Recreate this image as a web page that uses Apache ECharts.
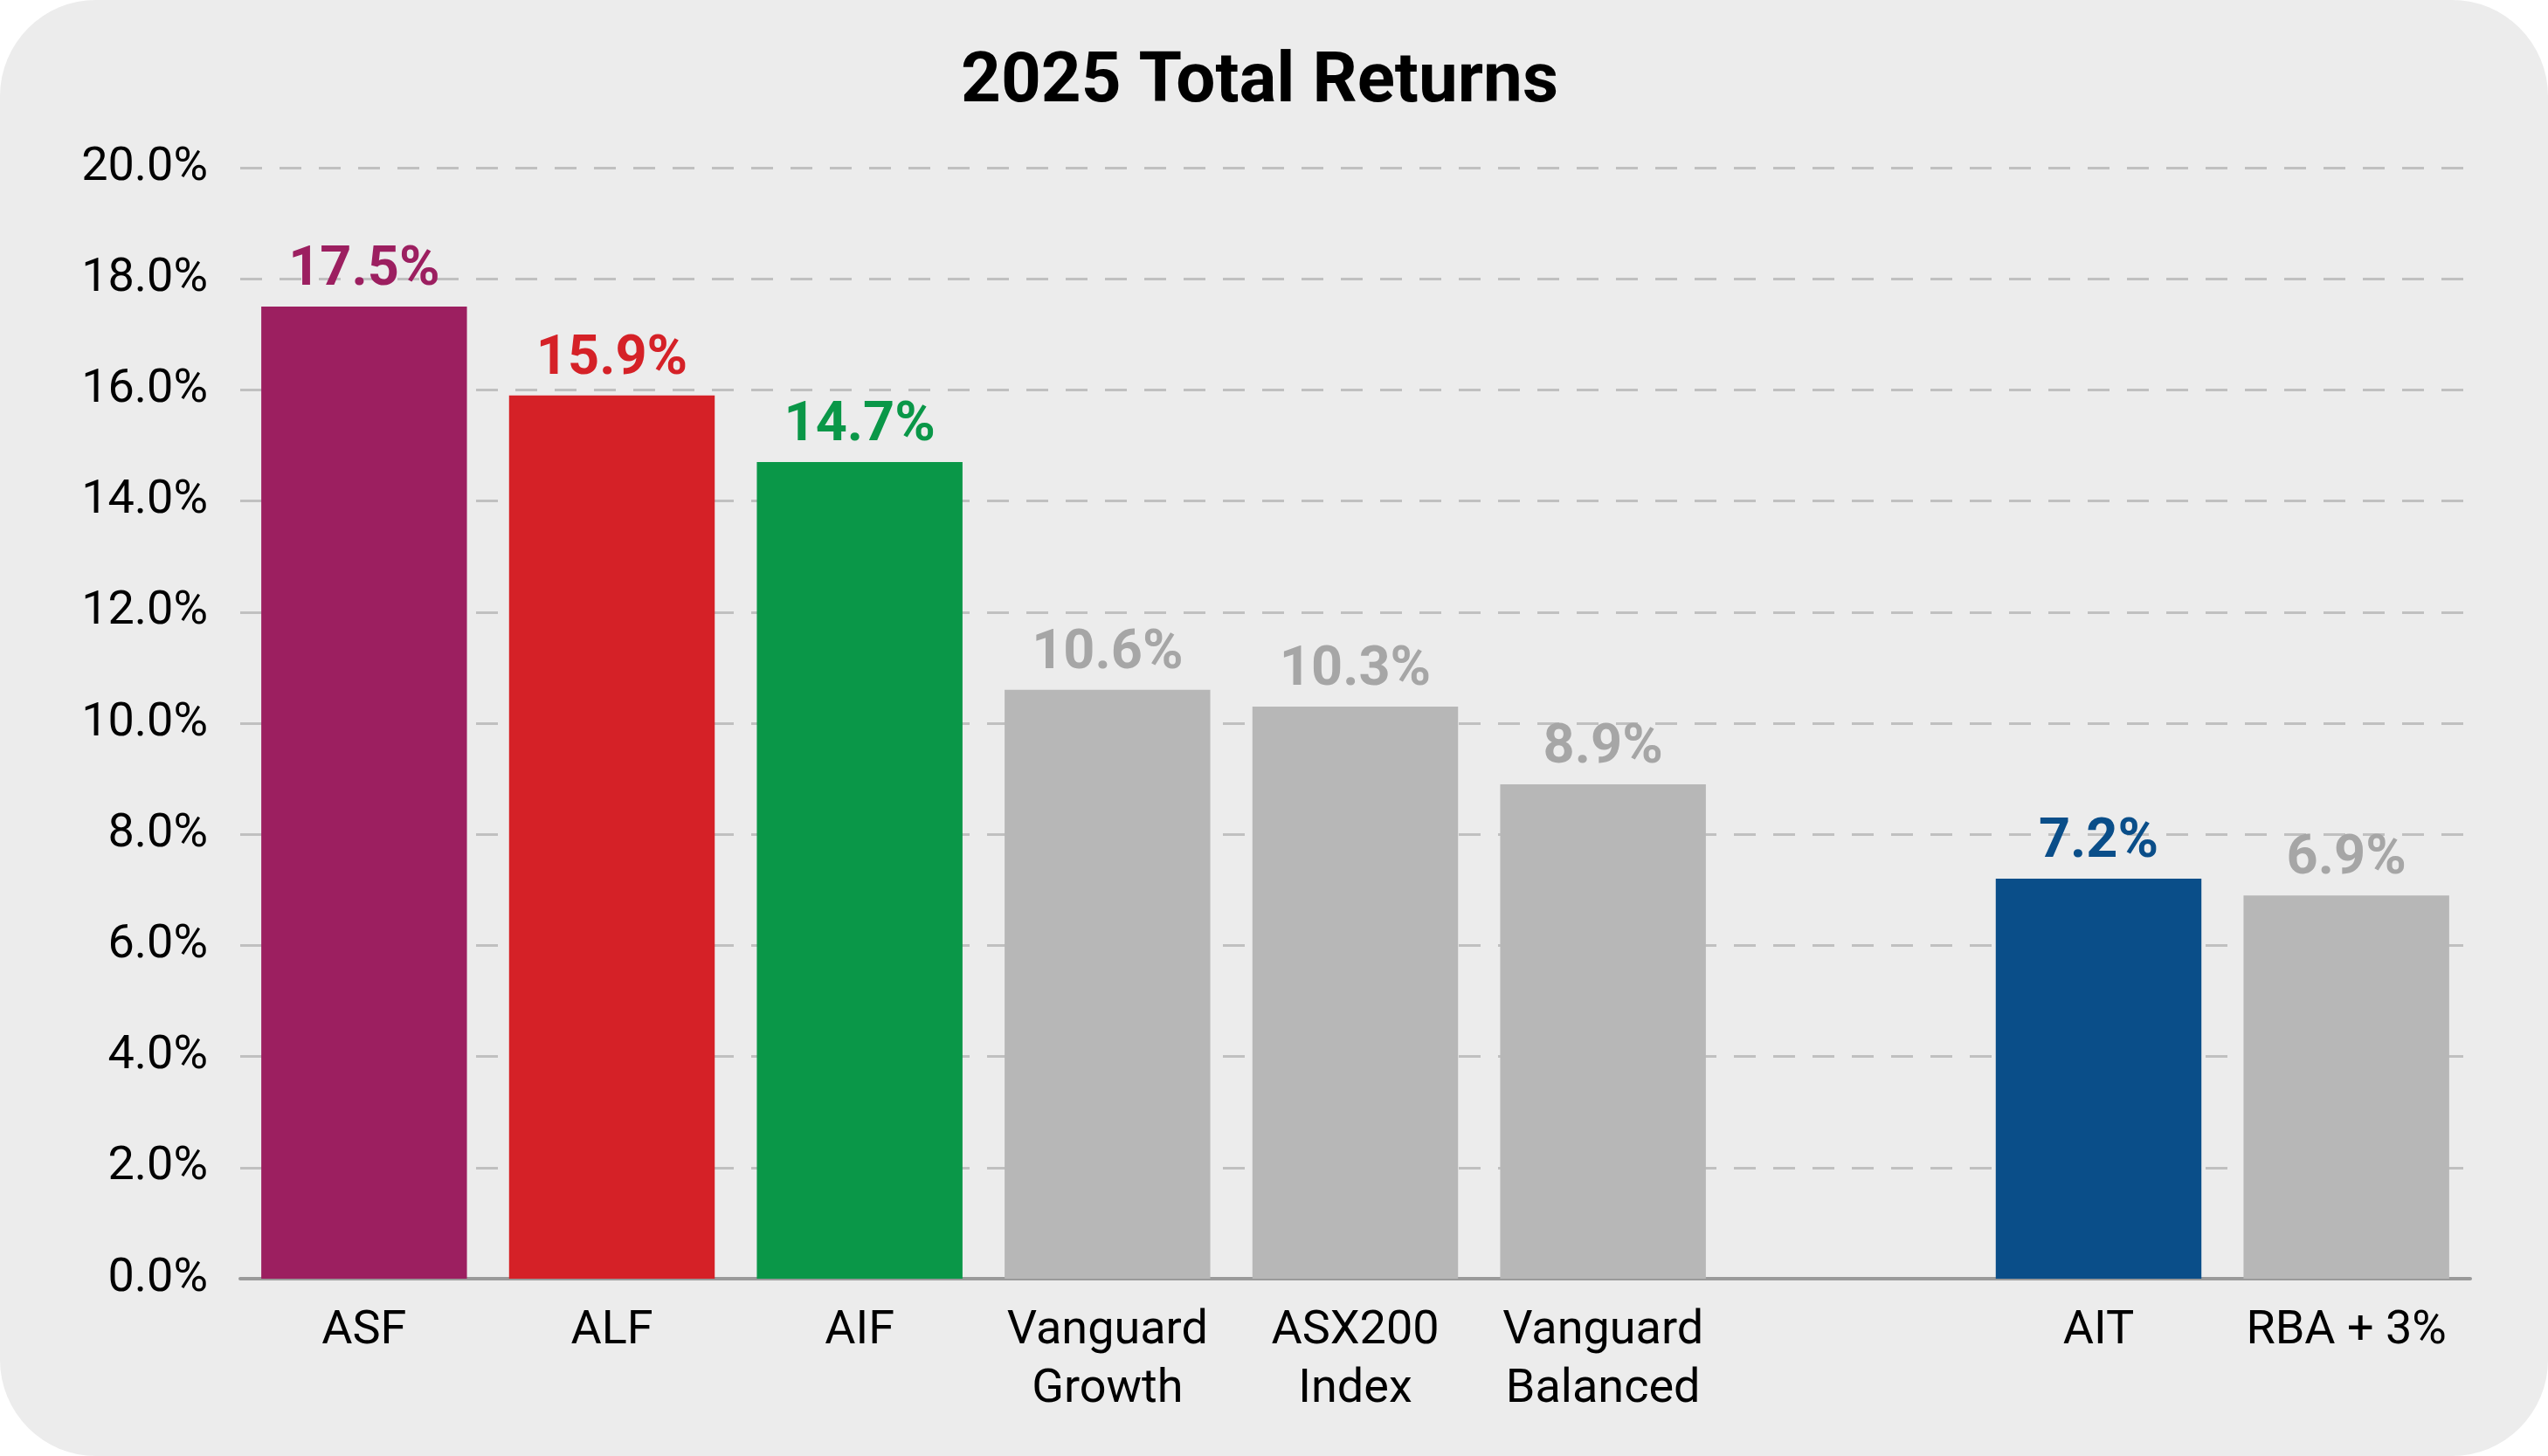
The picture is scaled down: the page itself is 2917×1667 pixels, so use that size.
<!DOCTYPE html>
<html>
<head>
<meta charset="utf-8">
<script src="https://cdn.jsdelivr.net/npm/echarts@6/dist/echarts.min.js"></script>
<style>
html, body { margin: 0; padding: 0; background: #ffffff; }
#chart { width: 2917px; height: 1667px; background: #ececec; border-radius: 110px; overflow: hidden; }
</style>
</head>
<body>
<div id="chart"></div>
<script>
// 2025 total returns, empty slot separates the fund groups
var categories = ['ASF', 'ALF', 'AIF', 'Vanguard\nGrowth', 'ASX200\nIndex', 'Vanguard\nBalanced', '', 'AIT', 'RBA + 3%'];
var returns = [17.5, 15.9, 14.7, 10.6, 10.3, 8.9, null, 7.2, 6.9];
var yTicks = [0, 2, 4, 6, 8, 10, 12, 14, 16, 18, 20];

var barColors = ['#9c1f60', '#d52127', '#0a9748', '#b7b7b7', '#b7b7b7', '#b7b7b7', '#b7b7b7', '#0a4e89', '#b7b7b7'];
var labelColors = ['#9c1f60', '#d52127', '#0a9748', '#a6a6a6', '#a6a6a6', '#a6a6a6', '#a6a6a6', '#0a4e89', '#a6a6a6'];

var font = 'Roboto, "Liberation Sans", sans-serif';

var myChart = echarts.init(document.getElementById('chart'));
myChart.setOption({
    backgroundColor: 'transparent',
    animation: false,
    title: {
        text: '2025 Total Returns',
        left: 1437,
        top: 51,
        textAlign: 'center',
        textStyle: { fontFamily: font, fontWeight: 'bold', fontSize: 80, color: '#000000' }
    },
    grid: {
        left: 275,
        right: 89,
        top: 192,
        bottom: 203,
        outerBoundsMode: 'none'
    },
    xAxis: {
        type: 'category',
        data: categories,
        axisLine: { show: true, lineStyle: { color: '#9a9a9a', width: 4 } },
        axisTick: { show: false },
        axisLabel: {
            fontFamily: font, fontSize: 54, color: '#000000',
            margin: 27, lineHeight: 67, interval: 0
        }
    },
    yAxis: {
        type: 'value',
        min: yTicks[0],
        max: yTicks[yTicks.length - 1],
        interval: 2,
        axisLine: { show: false },
        axisTick: { show: false },
        axisLabel: {
            fontFamily: font, fontSize: 54, color: '#000000', margin: 37,
            formatter: function (v) { return v.toFixed(1) + '%'; }
        },
        splitLine: {
            lineStyle: { color: '#c0c0c0', width: 3, type: [25, 20] }
        }
    },
    series: [{
        type: 'bar',
        barCategoryGap: '17%',
        data: returns.map(function (v, i) {
            return {
                value: v,
                itemStyle: { color: barColors[i] },
                label: { color: labelColors[i] }
            };
        }),
        label: {
            show: true,
            position: 'top',
            distance: 9,
            fontFamily: font,
            fontWeight: 'bold',
            fontSize: 63,
            formatter: function (p) { return p.value == null ? '' : p.value.toFixed(1) + '%'; }
        }
    }]
});
</script>
</body>
</html>
